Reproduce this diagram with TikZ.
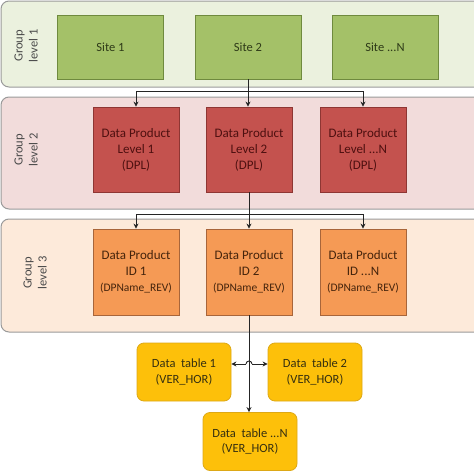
\documentclass[tikz,border=0pt]{standalone}
\usepackage{fontspec}
\setmainfont{Carlito}
\usetikzlibrary{arrows.meta}
\definecolor{bandA}{HTML}{EBF1DE}
\definecolor{bandB}{HTML}{F2DCDB}
\definecolor{bandC}{HTML}{FDEADA}
\definecolor{bandline}{HTML}{9A9A9A}
\definecolor{siteF}{HTML}{A4C168}
\definecolor{siteD}{HTML}{6F8A3E}
\definecolor{siteT}{HTML}{2E3A18}
\definecolor{dplF}{HTML}{C4524E}
\definecolor{dplD}{HTML}{8E3633}
\definecolor{dplT}{HTML}{4E1010}
\definecolor{idF}{HTML}{F59A55}
\definecolor{idD}{HTML}{A8653A}
\definecolor{idT}{HTML}{45240C}
\definecolor{tabF}{HTML}{FDC00A}
\definecolor{tabD}{HTML}{DDA816}
\definecolor{tabT}{HTML}{363010}
\definecolor{grpT}{HTML}{4A4A4A}
\definecolor{lineC}{HTML}{252525}
\begin{document}
\begin{tikzpicture}[x=1pt,y=-1pt,
  band/.style={draw=bandline,line width=1pt,rounded corners=8pt},
  sitebox/.style={draw=siteD,fill=siteF,line width=0.8pt,minimum width=106pt,minimum height=64pt,text=siteT,font=\fontsize{12.5}{15}\selectfont,align=center,inner sep=0pt},
  dplbox/.style={draw=dplD,fill=dplF,line width=0.8pt,minimum width=86pt,minimum height=85pt,text=dplT,font=\fontsize{13}{16}\selectfont,align=center,inner sep=0pt},
  idbox/.style={draw=idD,fill=idF,line width=0.8pt,minimum width=86pt,minimum height=86pt,text=idT,font=\fontsize{13}{16}\selectfont,align=center,inner sep=0pt},
  tabbox/.style={draw=tabD,fill=tabF,line width=0.8pt,rounded corners=7pt,minimum width=94pt,minimum height=58pt,text=tabT,font=\fontsize{12.5}{15.5}\selectfont,align=center,inner sep=0pt},
  grplabel/.style={rotate=90,text=grpT,font=\fontsize{12.5}{15}\selectfont,align=center,inner sep=0pt},
  conn/.style={draw=lineC,line width=0.9pt},
  arr/.style={conn,-{Stealth[length=5pt,width=5pt]}},
]
\useasboundingbox (0,0) rectangle (474,474);
\begin{scope}
\clip (0,0) rectangle (474,474);
% bands
\path[band,fill=bandA] (1,1) rectangle (490,87);
\path[band,fill=bandB] (1,97) rectangle (490,209);
\path[band,fill=bandC] (1,219) rectangle (490,332);
\end{scope}
% group labels
\node[grplabel] (g1) at (26,46) {Group\\level 1};
\node[grplabel] (g2) at (26,150) {Group\\level 2};
\node[grplabel] (g3) at (35,273) {Group\\level 3};
% sites
\node[sitebox] (s1) at (110.5,47) {Site 1};
\node[sitebox] (s2) at (248,47) {Site 2};
\node[sitebox] (sn) at (385,47) {Site ...N};
% DPL
\node[dplbox] (d1) at (136,149.5) {Data Product\\Level 1\\(DPL)};
\node[dplbox] (d2) at (249,149.5) {Data Product\\Level 2\\(DPL)};
\node[dplbox] (dn) at (363,149.5) {Data Product\\Level ...N\\(DPL)};
% ID
\node[idbox] (i1) at (136,272) {Data Product\\ID 1\\{\fontsize{11.5}{14}\selectfont(DPName\_REV)}};
\node[idbox] (i2) at (249,272) {Data Product\\ID 2\\{\fontsize{11.5}{14}\selectfont(DPName\_REV)}};
\node[idbox] (in) at (363,272) {Data Product\\ID ...N\\{\fontsize{11.5}{14}\selectfont(DPName\_REV)}};
% tables
\node[tabbox] (t1) at (184,372) {Data\ \ table 1\\(VER\_HOR)};
\node[tabbox] (t2) at (315,372) {Data\ \ table 2\\(VER\_HOR)};
\node[tabbox] (tn) at (250,441.5) {Data\ \ table ...N\\(VER\_HOR)};
% connectors level1 -> level2
\coordinate (j1) at (248,91);
\draw[conn] (s2.south) -- (j1);
\draw[arr] (j1) -| (d1.north);
\draw[arr] (j1) -- (j1 |- d2.north);
\draw[arr] (j1) -| (dn.north);
% level2 -> level3
\coordinate (j2) at (249,214);
\draw[conn] (d2.south) -- (j2);
\draw[arr] (j2) -| (i1.north);
\draw[arr] (j2) -- (i2.north);
\draw[arr] (j2) -| (in.north);
% level3 -> tables
\draw[arr] (i2.south) -- (tn.north -| i2.south);
\coordinate (hl) at (246,364);
\coordinate (hr) at (252,364);
\draw[arr] (hl) -- (t1.east |- hl);
\draw[arr] (hr) -- (t2.west |- hr);
\draw[conn] (hl) arc[start angle=180,end angle=0,radius=3pt];
\end{tikzpicture}
\end{document}
